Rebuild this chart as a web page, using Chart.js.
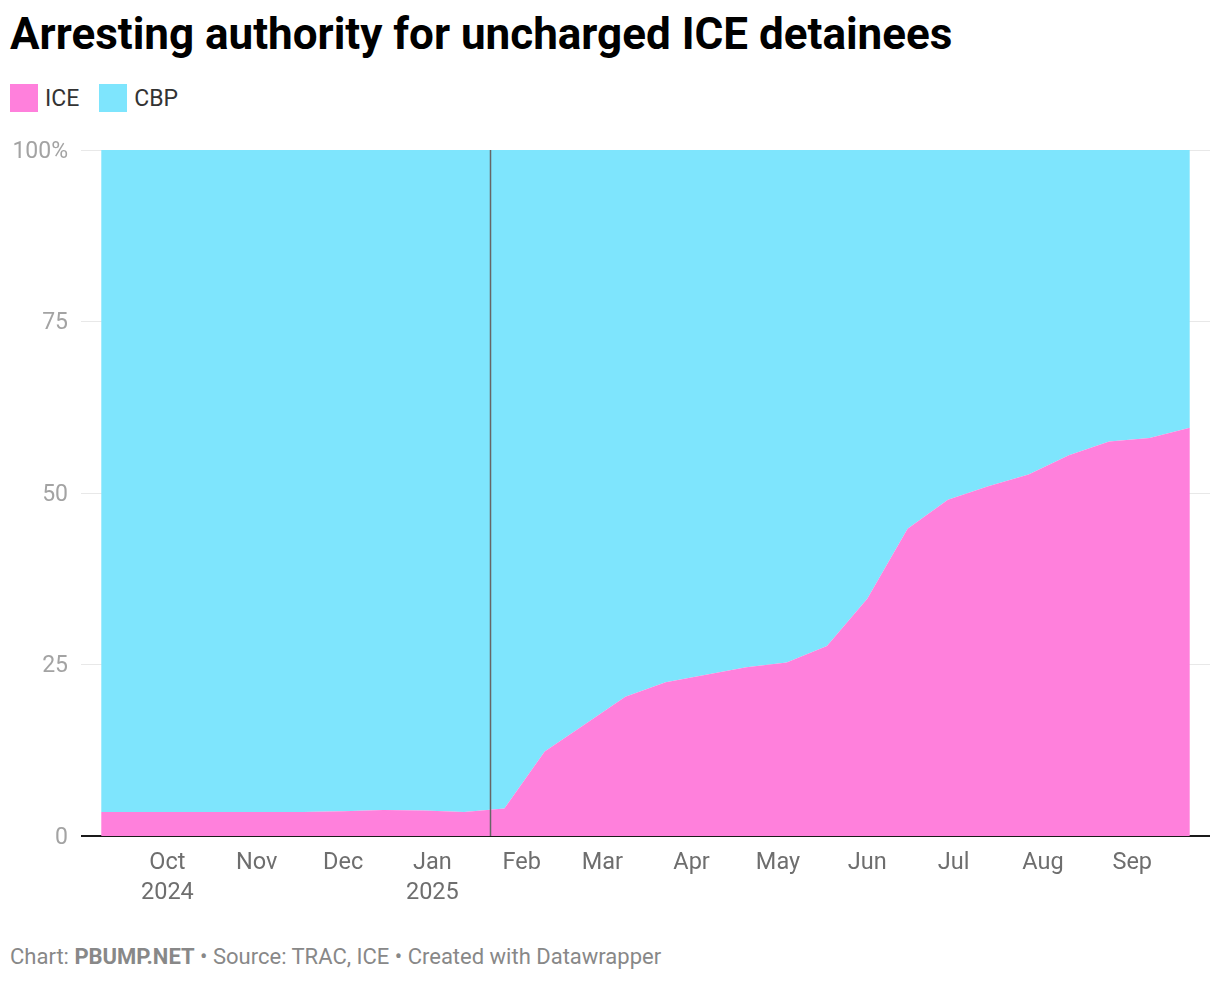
<!DOCTYPE html>
<html>
<head>
<meta charset="utf-8">
<script src="https://cdn.jsdelivr.net/npm/chart.js@4"></script>
<style>
  html, body { margin: 0; padding: 0; background: #fff; }
  body { width: 1220px; height: 982px; position: relative; overflow: hidden; font-family: Roboto, "Noto Sans", sans-serif; }
  #title { position: absolute; left: 10px; top: 8px; font-size: 44px; font-weight: 700; color: #000; white-space: nowrap; }
  #legend { position: absolute; left: 10px; top: 84px; display: flex; align-items: center; font-size: 23px; color: #333; }
  #legend span.sw { display: inline-block; width: 28px; height: 28px; margin-right: 7px; }
  #legend span.lb { margin-right: 20px; }
  #wrap { position: absolute; left: 0; top: 120px; width: 1220px; height: 800px; }
  #footer { position: absolute; left: 10px; top: 944px; font-size: 22px; color: #888; white-space: nowrap; }
  #footer b { font-weight: 700; }
</style>
</head>
<body>
<div id="title">Arresting authority for uncharged ICE detainees</div>
<div id="legend"></div>
<div id="wrap"><canvas id="chart" width="1220" height="800"></canvas></div>
<div id="footer">Chart: <b>PBUMP.NET</b> • Source: TRAC, ICE • Created with Datawrapper</div>
<script>
// biweekly snapshots, share of uncharged detainees by arresting agency (%)
const dates = [
  '2024-09-08', '2024-09-22', '2024-10-06', '2024-10-20', '2024-11-03', '2024-11-17',
  '2024-12-01', '2024-12-15', '2024-12-29', '2025-01-12', '2025-01-26', '2025-02-09',
  '2025-02-23', '2025-03-09', '2025-03-23', '2025-04-06', '2025-04-20', '2025-05-04',
  '2025-05-18', '2025-06-01', '2025-06-15', '2025-06-29', '2025-07-13', '2025-07-27',
  '2025-08-10', '2025-08-24', '2025-09-07', '2025-09-21'
];
const ice = [
  3.5, 3.5, 3.5, 3.5, 3.5, 3.5,
  3.6, 3.8, 3.7, 3.5, 4.0, 12.3,
  16.3, 20.3, 22.4, 23.5, 24.6, 25.3,
  27.7, 34.6, 44.8, 49.0, 51.0, 52.7,
  55.5, 57.5, 58.0, 59.5
];
const cbp = [
  96.5, 96.5, 96.5, 96.5, 96.5, 96.5,
  96.4, 96.2, 96.3, 96.5, 96.0, 87.7,
  83.7, 79.7, 77.6, 76.5, 75.4, 74.7,
  72.3, 65.4, 55.2, 51.0, 49.0, 47.3,
  44.5, 42.5, 42.0, 40.5
];
const seriesNames = ['ICE', 'CBP'];
const seriesColors = ['#ff80dc', '#7ee5fd'];
const yTicks = [0, 25, 50, 75, 100];
const monthTicks = [
  '2024-10-01', '2024-11-01', '2024-12-01', '2025-01-01', '2025-02-01', '2025-03-01',
  '2025-04-01', '2025-05-01', '2025-06-01', '2025-07-01', '2025-08-01', '2025-09-01'
];
const monthNames = ['Jan', 'Feb', 'Mar', 'Apr', 'May', 'Jun', 'Jul', 'Aug', 'Sep', 'Oct', 'Nov', 'Dec'];
const xRange = ['2024-09-01', '2025-09-28'];
const markerDate = '2025-01-21';

const dayOf = s => {
  const [y, m, d] = s.split('-').map(Number);
  return Date.UTC(y, m - 1, d) / 86400000;
};

const legend = document.getElementById('legend');
seriesNames.forEach((name, i) => {
  legend.innerHTML += `<span class="sw" style="background:${seriesColors[i]}"></span><span class="lb">${name}</span>`;
});

const firstTick = dayOf(monthTicks[0]);
const tickLabel = value => {
  const d = new Date(value * 86400000);
  const m = d.getUTCMonth();
  const name = monthNames[m];
  if (value === firstTick || m === 0) return [name, String(d.getUTCFullYear())];
  return name;
};

const markerLine = {
  id: 'markerLine',
  afterDatasetsDraw(chart) {
    const { ctx, chartArea, scales } = chart;
    const x = Math.round(scales.x.getPixelForValue(dayOf(markerDate))) + 0.5;
    ctx.save();
    ctx.strokeStyle = '#666';
    ctx.lineWidth = 1.5;
    ctx.beginPath();
    ctx.moveTo(x, chartArea.top);
    ctx.lineTo(x, chartArea.bottom);
    ctx.stroke();
    ctx.restore();
  }
};

new Chart(document.getElementById('chart'), {
  type: 'line',
  data: {
    datasets: [
      {
        label: seriesNames[0],
        data: dates.map((d, i) => ({ x: dayOf(d), y: ice[i] })),
        backgroundColor: seriesColors[0],
        borderWidth: 0,
        pointRadius: 0,
        fill: 'origin',
        tension: 0,
      },
      {
        label: seriesNames[1],
        data: dates.map((d, i) => ({ x: dayOf(d), y: cbp[i] })),
        backgroundColor: seriesColors[1],
        borderWidth: 0,
        pointRadius: 0,
        fill: '-1',
        tension: 0,
      },
    ],
  },
  options: {
    responsive: false,
    animation: false,
    layout: { padding: { top: 30, right: 10, left: 0, bottom: 0 } },
    plugins: { legend: { display: false }, tooltip: { enabled: false } },
    scales: {
      x: {
        type: 'linear',
        min: dayOf(xRange[0]),
        max: dayOf(xRange[1]),
        afterBuildTicks: scale => { scale.ticks = monthTicks.map(s => ({ value: dayOf(s) })); },
        afterFit: scale => { scale.height = 84; },
        grid: { display: false, drawTicks: false },
        border: { display: false },
        ticks: {
          autoSkip: false,
          maxRotation: 0,
          padding: 12,
          color: '#6e6e6e',
          font: { family: 'Roboto', size: 23.5, lineHeight: 1.28 },
          callback: tickLabel,
        },
      },
      y: {
        stacked: true,
        min: 0,
        max: 100,
        z: 1,
        afterBuildTicks: scale => { scale.ticks = yTicks.map(v => ({ value: v })); },
        afterFit: scale => { scale.width = 81; },
        grid: {
          drawTicks: false,
          color: ctx => ctx.tick && ctx.tick.value === 0 ? '#1a1a1a' : 'rgba(0,0,0,0.09)',
          lineWidth: ctx => ctx.tick && ctx.tick.value === 0 ? 2 : 1,
        },
        border: { display: false },
        ticks: {
          padding: 13,
          labelOffset: 2,
          color: '#a3a3a3',
          font: { family: 'Roboto', size: 23 },
          callback: v => v === 100 ? '100%' : v,
        },
      },
    },
  },
  plugins: [markerLine],
});
</script>
</body>
</html>
